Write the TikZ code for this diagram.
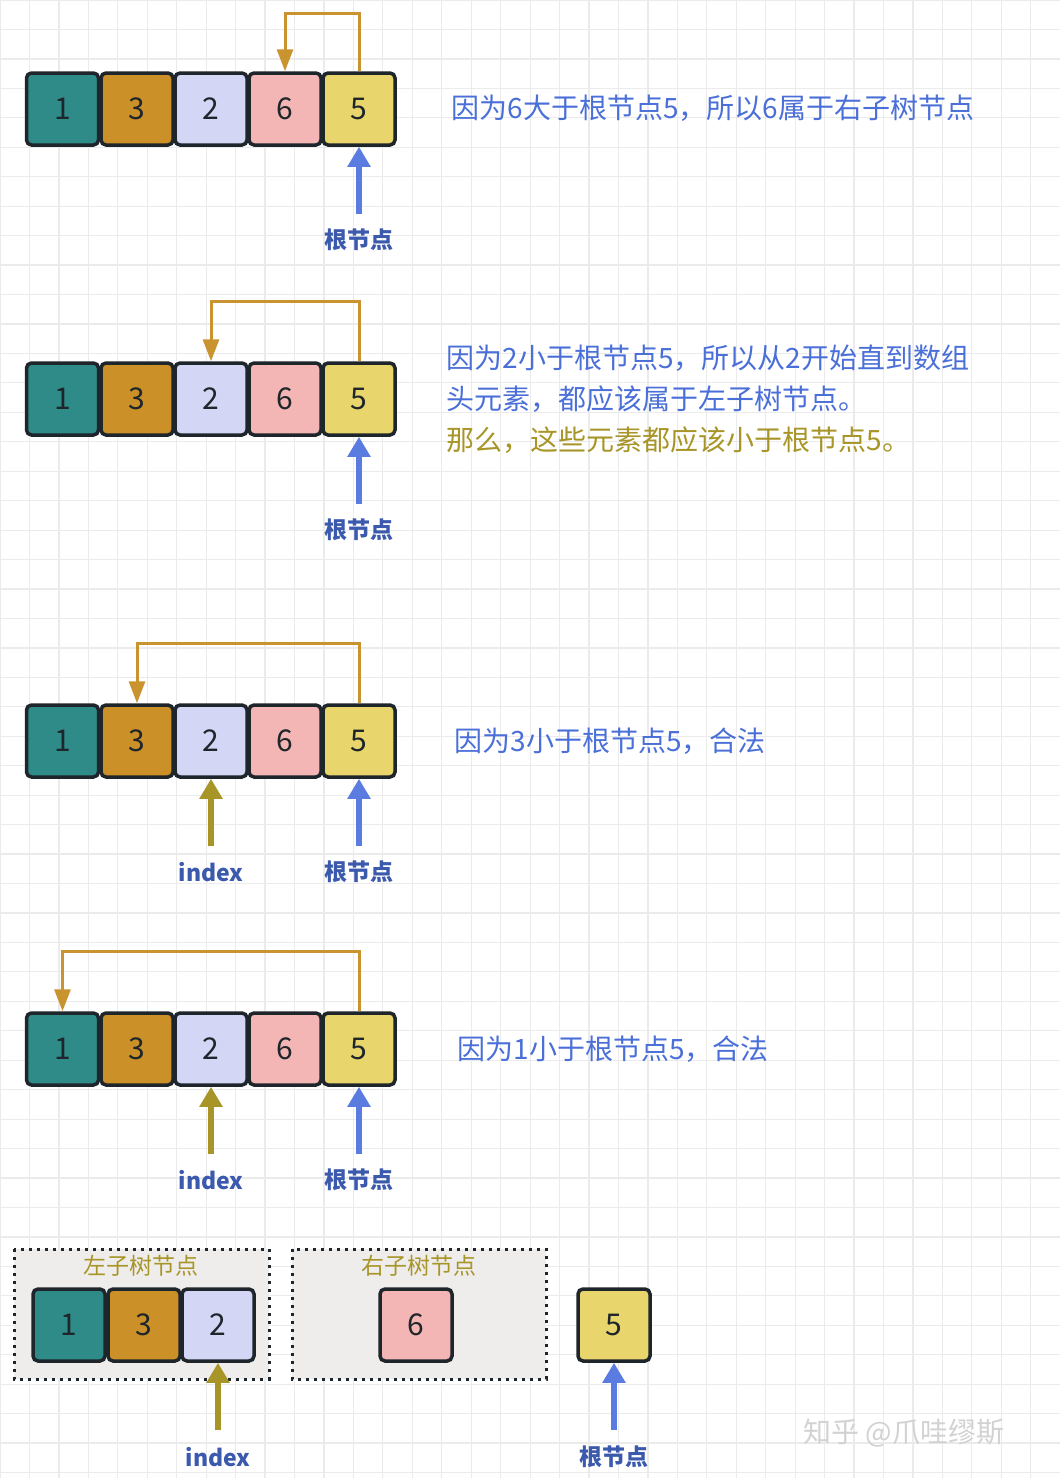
\documentclass[tikz,border=0pt]{standalone}
\usepackage{fontspec}
\setmainfont{Noto Sans CJK SC}
\usetikzlibrary{arrows.meta}
\definecolor{cteal}{HTML}{2E8B88}
\definecolor{corange}{HTML}{CB9128}
\definecolor{clav}{HTML}{D3D6F5}
\definecolor{cpink}{HTML}{F3B6B5}
\definecolor{cyel}{HTML}{E8D56C}
\definecolor{cedge}{HTML}{1F262B}
\definecolor{cblue}{HTML}{5A7BE0}
\definecolor{ctxtblue}{HTML}{4A6FD8}
\definecolor{colive}{HTML}{A89528}
\definecolor{cgrid}{HTML}{EBEBEB}
\definecolor{cpanel}{HTML}{EFEDEC}
\definecolor{cline}{HTML}{C99430}
\tikzset{
 x=1pt,y=-1pt,
 cell/.style={draw=cedge,line width=3.5pt,rounded corners=5pt,minimum width=72pt,minimum height=72pt,inner sep=0pt,font=\fontsize{30}{30}\selectfont,text=cedge},
 loopline/.style={draw=cline,line width=3pt,-{Triangle[width=16pt,length=22pt]}},
 bluearrow/.style={draw=cblue,line width=6pt,-{Triangle[width=22pt,length=20pt]}},
 olivearrow/.style={draw=colive,line width=6pt,-{Triangle[width=22pt,length=20pt]}},
 lbl/.style={font=\fontsize{23}{23}\selectfont\bfseries},
 note/.style={font=\fontsize{28}{28}\selectfont,text=ctxtblue,anchor=west},
 panel/.style={draw=cedge,fill=cpanel,line width=3pt,dash pattern=on 3pt off 5pt},
}
\begin{document}
\begin{tikzpicture}
\useasboundingbox (0,0) rectangle (1060,1478);
\fill[white] (0,0) rectangle (1060,1478);
\foreach \g in {0,29.45,...,1060} \draw[cgrid,line width=1.2pt] (\g,0) -- (\g,1478);
\foreach \g in {0,29.45,...,1478} \draw[cgrid,line width=1.2pt] (0,\g) -- (1060,\g);
% rows
\foreach \r/\y in {a/109,b/399,c/741,d/1049}{
 \node[cell,fill=cteal] (\r1) at (62.5,\y) {1};
 \node[cell,fill=corange] (\r2) at (137,\y) {3};
 \node[cell,fill=clav] (\r3) at (211,\y) {2};
 \node[cell,fill=cpink] (\r4) at (285,\y) {6};
 \node[cell,fill=cyel] (\r5) at (359,\y) {5};
 \coordinate (\r r) at (359,\y+105);
 \node[lbl,text=ctxtblue!80!black] (\r rl) at (359,\y+131) {根节点};
 \draw[bluearrow] (\r r) -- (\r5.south);
}
\draw[loopline] (a5.north) -- ++(0,-58) -| (a4.north);
\draw[loopline] (b5.north) -- ++(0,-60) -| (b3.north);
\draw[loopline] (c5.north) -- ++(0,-60) -| (c2.north);
\draw[loopline] (d5.north) -- ++(0,-60) -| (d1.north);
\foreach \r/\y in {c/741,d/1049}{
 \coordinate (\r i) at (211,\y+105);
 \node[lbl,text=ctxtblue!80!black] (\r il) at (211,\y+131) {index};
 \draw[olivearrow] (\r i) -- (\r3.south);
}
\node[note] (t1) at (448,108) {因为6大于根节点5，所以6属于右子树节点};
\node[note] (t2) at (443,358) {因为2小于根节点5，所以从2开始直到数组};
\node[note] (t3) at (443,399) {头元素，都应该属于左子树节点。};
\node[note,text=colive] (t4) at (443,440) {那么，这些元素都应该小于根节点5。};
\node[note] (t5) at (451,741) {因为3小于根节点5，合法};
\node[note] (t6) at (454,1049) {因为1小于根节点5，合法};
% bottom
\draw[panel] (14,1249) rectangle (269,1379);
\draw[panel] (292,1249) rectangle (546,1379);
\node[font=\fontsize{23}{23}\selectfont,text=colive] (lt) at (141,1266) {左子树节点};
\node[font=\fontsize{23}{23}\selectfont,text=colive] (rt) at (419,1266) {右子树节点};
\node[cell,fill=cteal] (e1) at (69,1325) {1};
\node[cell,fill=corange] (e2) at (144,1325) {3};
\node[cell,fill=clav] (e3) at (218,1325) {2};
\node[cell,fill=cpink] (e4) at (416,1325) {6};
\node[cell,fill=cyel] (e5) at (614,1325) {5};
\coordinate (ei) at (218,1430);
\coordinate (er) at (614,1430);
\draw[olivearrow] (ei) -- (e3.south);
\draw[bluearrow] (er) -- (e5.south);
\node[lbl,text=ctxtblue!80!black] (eil) at (218,1457) {index};
\node[lbl,text=ctxtblue!80!black] (erl) at (614,1457) {根节点};
\node[font=\fontsize{28}{28}\selectfont,text=gray!35,anchor=west] (wm) at (800,1433) {知乎 @爪哇缪斯};
\end{tikzpicture}
\end{document}
